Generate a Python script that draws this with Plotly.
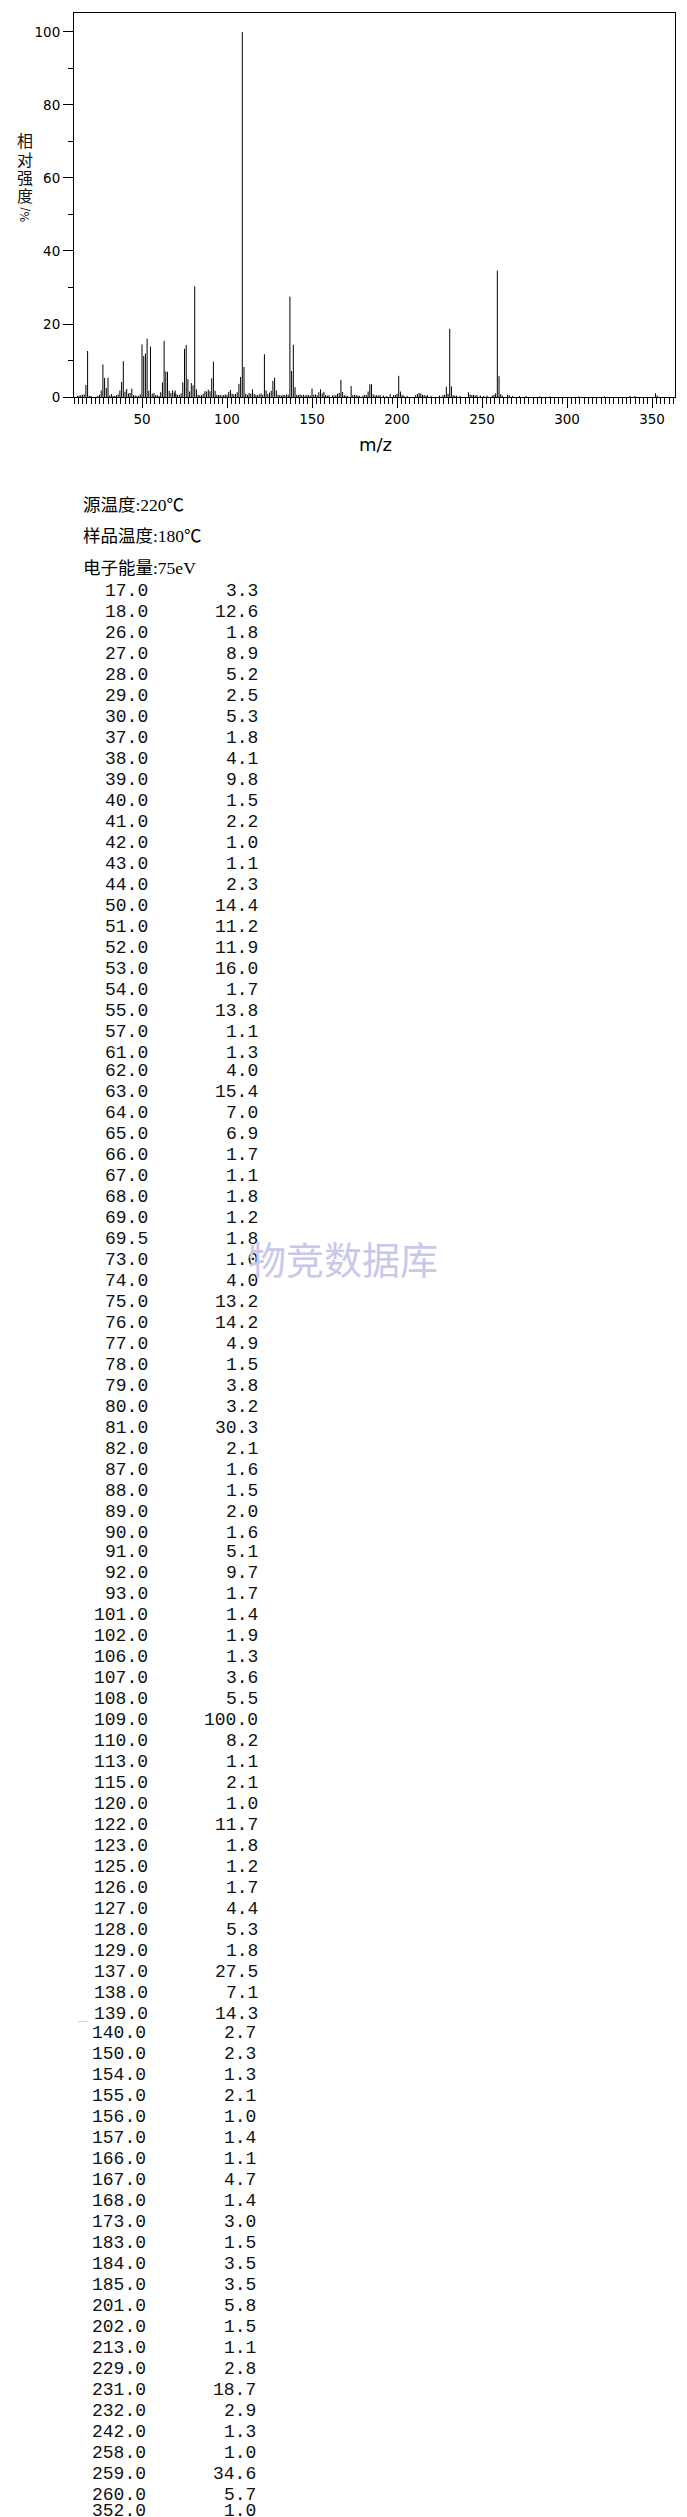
import plotly.graph_objects as go

# ---------------- data ----------------
mz = [17.0, 18.0, 26.0, 27.0, 28.0, 29.0, 30.0, 37.0, 38.0, 39.0, 40.0, 41.0, 42.0, 43.0, 44.0,
      50.0, 51.0, 52.0, 53.0, 54.0, 55.0, 57.0, 61.0, 62.0, 63.0, 64.0, 65.0, 66.0, 67.0, 68.0,
      69.0, 69.5, 73.0, 74.0, 75.0, 76.0, 77.0, 78.0, 79.0, 80.0, 81.0, 82.0, 87.0, 88.0, 89.0,
      90.0, 91.0, 92.0, 93.0, 101.0, 102.0, 106.0, 107.0, 108.0, 109.0, 110.0, 113.0, 115.0,
      120.0, 122.0, 123.0, 125.0, 126.0, 127.0, 128.0, 129.0, 137.0, 138.0, 139.0, 140.0, 150.0,
      154.0, 155.0, 156.0, 157.0, 166.0, 167.0, 168.0, 173.0, 183.0, 184.0, 185.0, 201.0, 202.0,
      213.0, 229.0, 231.0, 232.0, 242.0, 258.0, 259.0, 260.0, 352.0]
rel = [3.3, 12.6, 1.8, 8.9, 5.2, 2.5, 5.3, 1.8, 4.1, 9.8, 1.5, 2.2, 1.0, 1.1, 2.3,
       14.4, 11.2, 11.9, 16.0, 1.7, 13.8, 1.1, 1.3, 4.0, 15.4, 7.0, 6.9, 1.7, 1.1, 1.8,
       1.2, 1.8, 1.0, 4.0, 13.2, 14.2, 4.9, 1.5, 3.8, 3.2, 30.3, 2.1, 1.6, 1.5, 2.0,
       1.6, 5.1, 9.7, 1.7, 1.4, 1.9, 1.3, 3.6, 5.5, 100.0, 8.2, 1.1, 2.1,
       1.0, 11.7, 1.8, 1.2, 1.7, 4.4, 5.3, 1.8, 27.5, 7.1, 14.3, 2.7, 2.3,
       1.3, 2.1, 1.0, 1.4, 1.1, 4.7, 1.4, 3.0, 1.5, 3.5, 3.5, 5.8, 1.5,
       1.1, 2.8, 18.7, 2.9, 1.3, 1.0, 34.6, 5.7, 1.0]

# small (<1 %) peaks seen in the plot, estimated by eye
minor_mz = [12, 13, 14, 15, 16, 19, 20, 24, 25, 31, 32, 33, 34, 35, 36, 45, 46, 47, 48, 49,
            56, 58, 59, 60, 70, 71, 72, 83, 84, 85, 86, 94, 95, 96, 97, 98, 99, 100, 103, 104,
            105, 111, 112, 114, 116, 117, 118, 119, 121, 124, 130, 131, 132, 133, 134, 135, 136,
            141, 142, 143, 144, 145, 146, 147, 148, 149, 151, 152, 153, 158, 159, 160, 162, 163,
            164, 165, 169, 170, 171, 174, 175, 176, 177, 178, 180, 181, 182, 186, 187, 188, 189,
            190, 192, 194, 196, 198, 199, 200, 203, 204, 206, 211, 212, 214, 215, 216, 217, 218,
            220, 225, 227, 228, 230, 233, 234, 235, 237, 243, 244, 245, 246, 247, 249, 251, 253,
            256, 257, 261, 262, 265, 266, 268, 272, 276, 284, 290, 307, 322, 337, 340, 353]
minor_rel = [0.3, 0.4, 0.5, 0.6, 0.7, 0.3, 0.3, 0.3, 0.6, 0.4, 0.8, 0.3, 0.3, 0.5, 0.7, 0.5, 0.4, 0.3, 0.3, 0.7,
             0.9, 0.5, 0.5, 0.3, 0.8, 0.6, 0.5, 0.6, 0.5, 0.5, 0.9, 0.6, 0.5, 0.6, 0.4, 0.5, 0.7, 0.6, 0.9, 0.7,
             0.8, 0.9, 0.6, 0.9, 0.8, 0.6, 0.5, 0.7, 0.6, 0.8, 0.6, 0.5, 0.4, 0.6, 0.5, 0.7, 0.6,
             0.6, 0.5, 0.7, 0.5, 0.6, 0.4, 0.6, 0.5, 0.4, 0.6, 0.7, 0.5, 0.5, 0.4, 0.5, 0.4, 0.4,
             0.5, 0.9, 0.5, 0.4, 0.3, 0.5, 0.6, 0.5, 0.4, 0.3, 0.4, 0.6, 0.5, 0.7, 0.4, 0.5, 0.4,
             0.5, 0.4, 0.3, 0.8, 0.5, 0.6, 0.9, 0.6, 0.4, 0.3, 0.5, 0.8, 0.9, 0.6, 0.5, 0.4, 0.5,
             0.3, 0.4, 0.5, 0.6, 0.9, 0.5, 0.4, 0.4, 0.3, 0.7, 0.5, 0.6, 0.4, 0.5, 0.4, 0.3, 0.4,
             0.4, 0.6, 0.8, 0.4, 0.6, 0.5, 0.3, 0.3, 0.3, 0.2, 0.2, 0.2, 0.2, 0.3, 0.3, 0.4]

x_ticks = [50, 100, 150, 200, 250, 300, 350]
y_ticks = [0, 20, 40, 60, 80, 100]
y_title_chars = ["相", "对", "强", "度"]
header_lines = ["源温度:220℃", "样品温度:180℃", "电子能量:75eV"]
watermark = "物竞数据库"

# ---------------- layout geometry (pixels) ----------------
W, H = 687, 2517
L, R, T, B = 74.0, 675.3, 13.3, 397.3


def px(xp):
    return (xp - L) / (R - L)


def py(yp):
    return (B - yp) / (B - T)


def sticks(xs, ys):
    X, Y = [], []
    for a, b in zip(xs, ys):
        X += [a, a, None]
        Y += [0, b, None]
    return X, Y


fig = go.Figure()
mx, my = sticks(minor_mz, minor_rel)
fig.add_trace(go.Scatter(x=mx, y=my, mode="lines", line=dict(color="black", width=1),
                         hoverinfo="skip", showlegend=False))
X, Y = sticks(mz, rel)
fig.add_trace(go.Scatter(x=X, y=Y, mode="lines", line=dict(color="black", width=1),
                         hoverinfo="skip", showlegend=False))

tickfont = dict(family="DejaVu Sans", size=13.5, color="black")
fig.update_layout(
    width=W, height=H,
    margin=dict(l=L, r=W - R, t=T, b=H - B, autoexpand=False),
    paper_bgcolor="white", plot_bgcolor="white",
    showlegend=False,
    xaxis=dict(range=[10, 363.5], tickvals=x_ticks, ticks="outside", ticklen=10,
               tickcolor="black", tickwidth=1, showline=True, linecolor="black", linewidth=1,
               mirror=True, showgrid=False, zeroline=False, tickfont=tickfont,
               minor=dict(dtick=2.5, tick0=0, ticks="outside", ticklen=6, tickcolor="black",
                          tickwidth=1, showgrid=False)),
    yaxis=dict(range=[0, 105.2], tickvals=y_ticks, ticks="outside", ticklen=10,
               tickcolor="black", tickwidth=1, showline=True, linecolor="black", linewidth=1,
               mirror=True, showgrid=False, zeroline=False, tickfont=tickfont,
               minor=dict(dtick=10, tick0=0, ticks="outside", ticklen=5, tickcolor="black",
                          tickwidth=1, showgrid=False)),
)

ann = []
# y-axis title (stacked characters)
for i, ch in enumerate(y_title_chars):
    ann.append(dict(x=px(25), y=py(140.5 + i * 18.4), xref="paper", yref="paper", text=ch,
                    showarrow=False, xanchor="center", yanchor="middle",
                    font=dict(family="Noto Sans CJK SC", size=16, color="#111")))
ann.append(dict(x=px(25), y=py(215.5), xref="paper", yref="paper", text="%/", textangle=-90,
                showarrow=False, xanchor="center", yanchor="middle",
                font=dict(family="DejaVu Sans", size=11.5, color="#111")))
# x-axis title
ann.append(dict(x=px(376), y=py(445), xref="paper", yref="paper", text="m/z",
                showarrow=False, xanchor="center", yanchor="middle",
                font=dict(family="DejaVu Sans", size=18, color="black")))

# header lines
for i, (txt, yy) in enumerate(zip(header_lines, [505, 536, 568])):
    ann.append(dict(x=px(81), y=py(yy), xref="paper", yref="paper", text=txt,
                    showarrow=False, xanchor="left", yanchor="middle",
                    font=dict(family="Liberation Serif, Noto Sans CJK SC", size=17.5, color="black")))

# table rows
tfont = dict(family="Liberation Mono", size=18, color="#111")
shrink = {23: 3, 46: 2, 69: 2, 92: 5}
yy = 591.0
for i, (m, v) in enumerate(zip(mz, rel)):
    if i > 0:
        yy += 21 - shrink.get(i, 0)
    dx = -2 if i >= 69 else 0
    ann.append(dict(x=px(150 + dx), y=py(yy), xref="paper", yref="paper", text=f"{m:.1f}",
                    showarrow=False, xanchor="right", yanchor="middle", font=tfont))
    ann.append(dict(x=px(260 + dx), y=py(yy), xref="paper", yref="paper", text=f"{v:.1f}",
                    showarrow=False, xanchor="right", yanchor="middle", font=tfont))

# watermark
ann.append(dict(x=px(343), y=py(1258), xref="paper", yref="paper", text=watermark,
                showarrow=False, xanchor="center", yanchor="middle",
                font=dict(family="Noto Sans CJK SC", size=38, color="#c8c8ea")))

fig.update_layout(annotations=ann)
fig.add_shape(type="line", xref="paper", yref="paper", x0=px(78), x1=px(88), y0=py(2022), y1=py(2022),
              line=dict(color="#d0d0d0", width=1))

fig.write_html("out.html",
               config={"displayModeBar": False},
               post_script="document.body.style.margin='0';document.body.style.padding='0';"
                           "document.documentElement.style.overflow='hidden';")
